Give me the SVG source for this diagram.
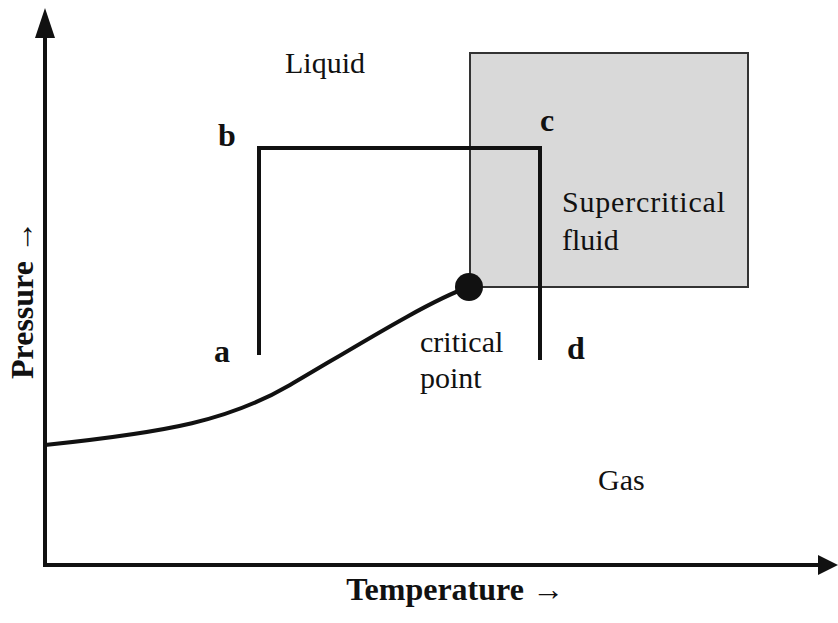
<svg xmlns="http://www.w3.org/2000/svg" width="838" height="623" viewBox="0 0 838 623">
<style>
.t{font-family:"Liberation Serif",serif;font-size:30px;fill:#111}
.b{font-family:"Liberation Serif",serif;font-size:32px;font-weight:bold;fill:#111}
.ln{stroke:#111;fill:none}
</style>
<rect width="838" height="623" fill="#fff"/>
<g id="supercritical-region">
<rect x="470" y="53" width="278" height="234" fill="#d9d9d9" stroke="#333" stroke-width="2"/>
<text class="t" x="562" y="212" textLength="163">Supercritical</text>
<text class="t" x="562" y="250">fluid</text>
</g>
<g id="connectors">
<path class="ln" stroke-width="4" d="M259,355 V148 H540 V360"/>
<path class="ln" stroke-width="4" d="M45,445 C170,432 230,420 290,385 S430,300 469,287"/>
<path class="ln" stroke-width="4" d="M45,30 V565 H825"/>
<polygon points="45,8 35,38 55,38" fill="#111"/>
<polygon points="838,565 818,555 818,575" fill="#111"/>
</g>
<g id="critical-point">
<circle cx="469" cy="287" r="14" fill="#111"/>
<text class="t" x="420" y="352">critical</text>
<text class="t" x="420" y="388">point</text>
</g>
<g id="labels">
<text class="t" x="285" y="73">Liquid</text>
<text class="t" x="598" y="490">Gas</text>
<text class="b" x="218" y="146">b</text>
<text class="b" x="540" y="131">c</text>
<text class="b" x="214" y="362">a</text>
<text class="b" x="567" y="359">d</text>
<text class="b" x="455" y="600" text-anchor="middle">Temperature →</text>
<text class="b" transform="translate(33,300) rotate(-90)" text-anchor="middle">Pressure →</text>
</g>
</svg>
